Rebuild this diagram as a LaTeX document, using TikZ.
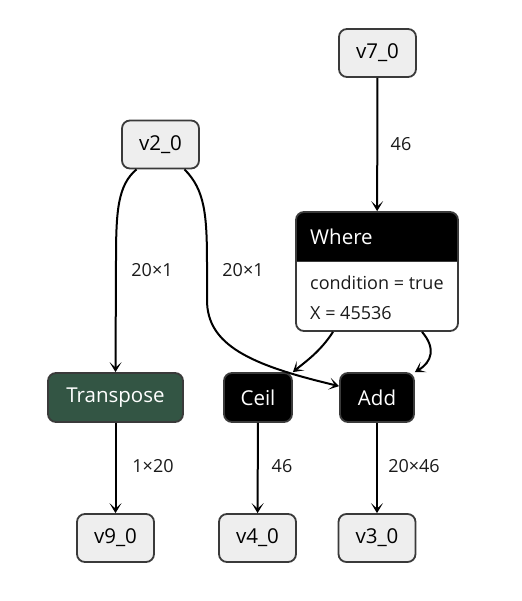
\documentclass[tikz,border=0pt]{standalone}
\usepackage{fontspec}
\setmainfont{Open Sans}
\usetikzlibrary{arrows.meta}
\definecolor{varfill}{HTML}{EEEEEE}
\definecolor{bordercol}{HTML}{3A3A3A}
\definecolor{tgreen}{HTML}{335544}
\definecolor{lbl}{HTML}{1A1A1A}
\tikzset{
  varbox/.style={draw=bordercol, line width=1.8pt, fill=varfill, rounded corners=8pt,
    minimum width=77pt, minimum height=48pt, inner sep=0pt,
    font=\fontsize{20.5}{24}\selectfont, text=black},
  opbox/.style={draw=bordercol, line width=1.8pt, fill=black, rounded corners=8pt,
    minimum height=49pt, inner sep=0pt, font=\fontsize{20.5}{24}\selectfont, text=white},
  edge/.style={line width=2pt, -{Stealth[length=10pt,width=12pt,inset=5.5pt]}},
  elabel/.style={font=\fontsize{18}{22}\selectfont, text=lbl, inner sep=0pt},
  attr/.style={font=\fontsize{18}{22}\selectfont, text=lbl, inner sep=0pt, anchor=west}
}
\begin{document}
\begin{tikzpicture}[x=1pt,y=-1pt]
\useasboundingbox (0,0) rectangle (521,601);
% variable nodes
\node[varbox] (v7) at (377.5,53) {v7\_0};
\node[varbox] (v2) at (160.5,144.5) {v2\_0};
\node[varbox] (v9) at (115.5,538) {v9\_0};
\node[varbox] (v4) at (257.5,538) {v4\_0};
\node[varbox] (v3) at (377,538) {v3\_0};
% op nodes
\node[opbox, fill=tgreen, minimum width=135pt] (transpose) at (115.5,397.5) {Transpose};
\node[opbox, minimum width=68pt] (ceil) at (258,397.5) {Ceil};
\node[opbox, minimum width=74pt] (add) at (377,397.5) {Add};
% Where node
\fill[black] (296,261) [rounded corners=8pt] -- (296,212) -- (458,212) [sharp corners] -- (458,261) -- cycle;
\node[draw=bordercol, line width=1.8pt, rounded corners=8pt, minimum width=162pt, minimum height=119pt, inner sep=0pt] (where) at (377,271.5) {};
\draw[bordercol, line width=1pt] (296,261) -- (458,261);
\node[anchor=west, inner sep=0pt, text=white, font=\fontsize{20.5}{24}\selectfont] (wheretitle) at (310,237) {Where};
\node[attr] (wattr1) at (310,283) {condition = true};
\node[attr] (wattr2) at (310,313) {X = 45536};
% edges
\draw[edge] (v7) -- (where);
\node[elabel] (l1) at (401,144) {46};
\draw[edge] ([xshift=-24pt]v2.south) .. controls (118,185) and (116,210) .. (116,260) -- (transpose.north);
\node[elabel] (l2) at (152,270) {20×1};
\draw[edge] ([xshift=24pt]v2.south) .. controls (205,190) and (207,215) .. (207,265) -- (207,300) .. controls (207,345) and (250,365) .. ([yshift=-14pt]add.north west);
\node[elabel] (l3) at (243,270) {20×1};
\draw[edge] ([xshift=-44pt]where.south) .. controls (320,352) and (305,362) .. (ceil.north east);
\draw[edge] ([xshift=45pt]where.south) .. controls (436,348) and (432,362) .. (add.north east);
\draw[edge] (transpose) -- (v9);
\node[elabel] (l4) at (153,466) {1×20};
\draw[edge] (ceil) -- (v4);
\node[elabel] (l5) at (282,466) {46};
\draw[edge] (add) -- (v3);
\node[elabel] (l6) at (414,466) {20×46};
\end{tikzpicture}
\end{document}
